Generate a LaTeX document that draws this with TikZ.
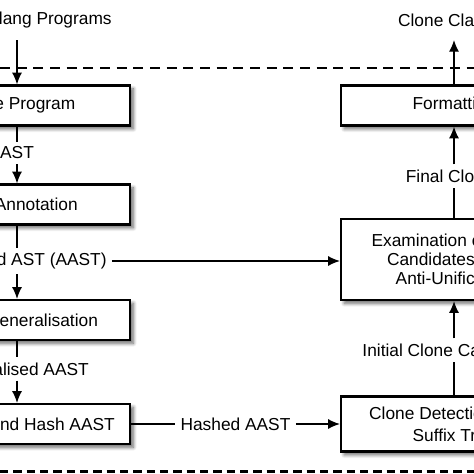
\documentclass[tikz,border=0pt]{standalone}
\usepackage{fontspec}
\setmainfont{Liberation Sans}
\usetikzlibrary{arrows.meta,shadows.blur}
\begin{document}
\begin{tikzpicture}[x=0.6pt, y=-0.6pt,
  every node/.style={font=\fontsize{10.4}{11.4}\selectfont},
  stage/.style={draw, line width=1.4pt, fill=white, minimum width=135.6pt, align=center,
    blur shadow={shadow xshift=2pt, shadow yshift=-2pt, shadow blur steps=8, shadow opacity=60}},
  lbl/.style={inner sep=3pt},
  flow/.style={line width=0.8pt, -{Latex[length=7pt,width=6pt]}},
  link/.style={line width=0.8pt}]
\useasboundingbox (0,0) rectangle (474,474);
\clip (0,0) rectangle (474,474);
% separators
\draw[line width=0.8pt, dash pattern=on 6 off 4] (0,68) -- (474,68);
\draw[line width=1.8pt, dash pattern=on 5 off 3] (0,471) -- (474,471);
% left column
\node[stage, minimum height=24pt] (parse) at (17,105.5) {Parse Program};
\node[stage, minimum height=24pt] (annot) at (17,204.5) {AST Annotation};
\node[stage, minimum height=24pt] (gen) at (17,320) {AAST Generalisation};
\node[stage, minimum height=24pt] (hash) at (17,424) {Serialise and Hash AAST};
% right column
\node[stage, minimum height=24pt] (fmt) at (454,105.5) {Formatting};
\node[stage, minimum height=48.6pt] (exam) at (454,259.5) {Examination of Clone\\Candidates using\\Anti-Unification};
\node[stage, minimum height=33pt, font=\fontsize{10.4}{13.2}\selectfont] (detect) at (454,424) {Clone Detection using\\Suffix Tree};
% labels
\node[inner sep=0pt, anchor=east] (progs) at (112,20) {Erlang Programs};
\coordinate (in) at (17,40);
\node[lbl] (ast) at (17,153) {AST};
\node[lbl] (aast) at (17,261) {Annotated AST (AAST)};
\node[lbl] (gaast) at (17,369) {Generalised AAST};
\node[lbl] (hashed) at (235.5,424) {Hashed AAST};
\node[lbl] (init) at (454,350) {Initial Clone Candidates};
\node[lbl] (final) at (454,176) {Final Clones};
\node[inner sep=0pt] (classes) at (454,20) {Clone Classes};
\coordinate (out) at (454,40);
% connectors
\draw[flow] (in) -- (parse.north);
\draw[link] (parse) -- (ast);
\draw[flow] (ast) -- (annot.north);
\draw[link] (annot) -- (aast);
\draw[flow] (aast.east) -- (aast.east -| exam.west);
\draw[flow] (aast) -- (gen.north);
\draw[link] (gen) -- (gaast);
\draw[flow] (gaast) -- (hash.north);
\draw[link] (hash.east) -- (hashed.west);
\draw[flow] (hashed.east) -- (detect.west);
\draw[link] (detect) -- (init);
\draw[flow] (init) -- (exam.south);
\draw[link] (exam) -- (final);
\draw[flow] (final) -- (fmt.south);
\draw[flow] (fmt.north) -- (out);
\end{tikzpicture}
\end{document}
